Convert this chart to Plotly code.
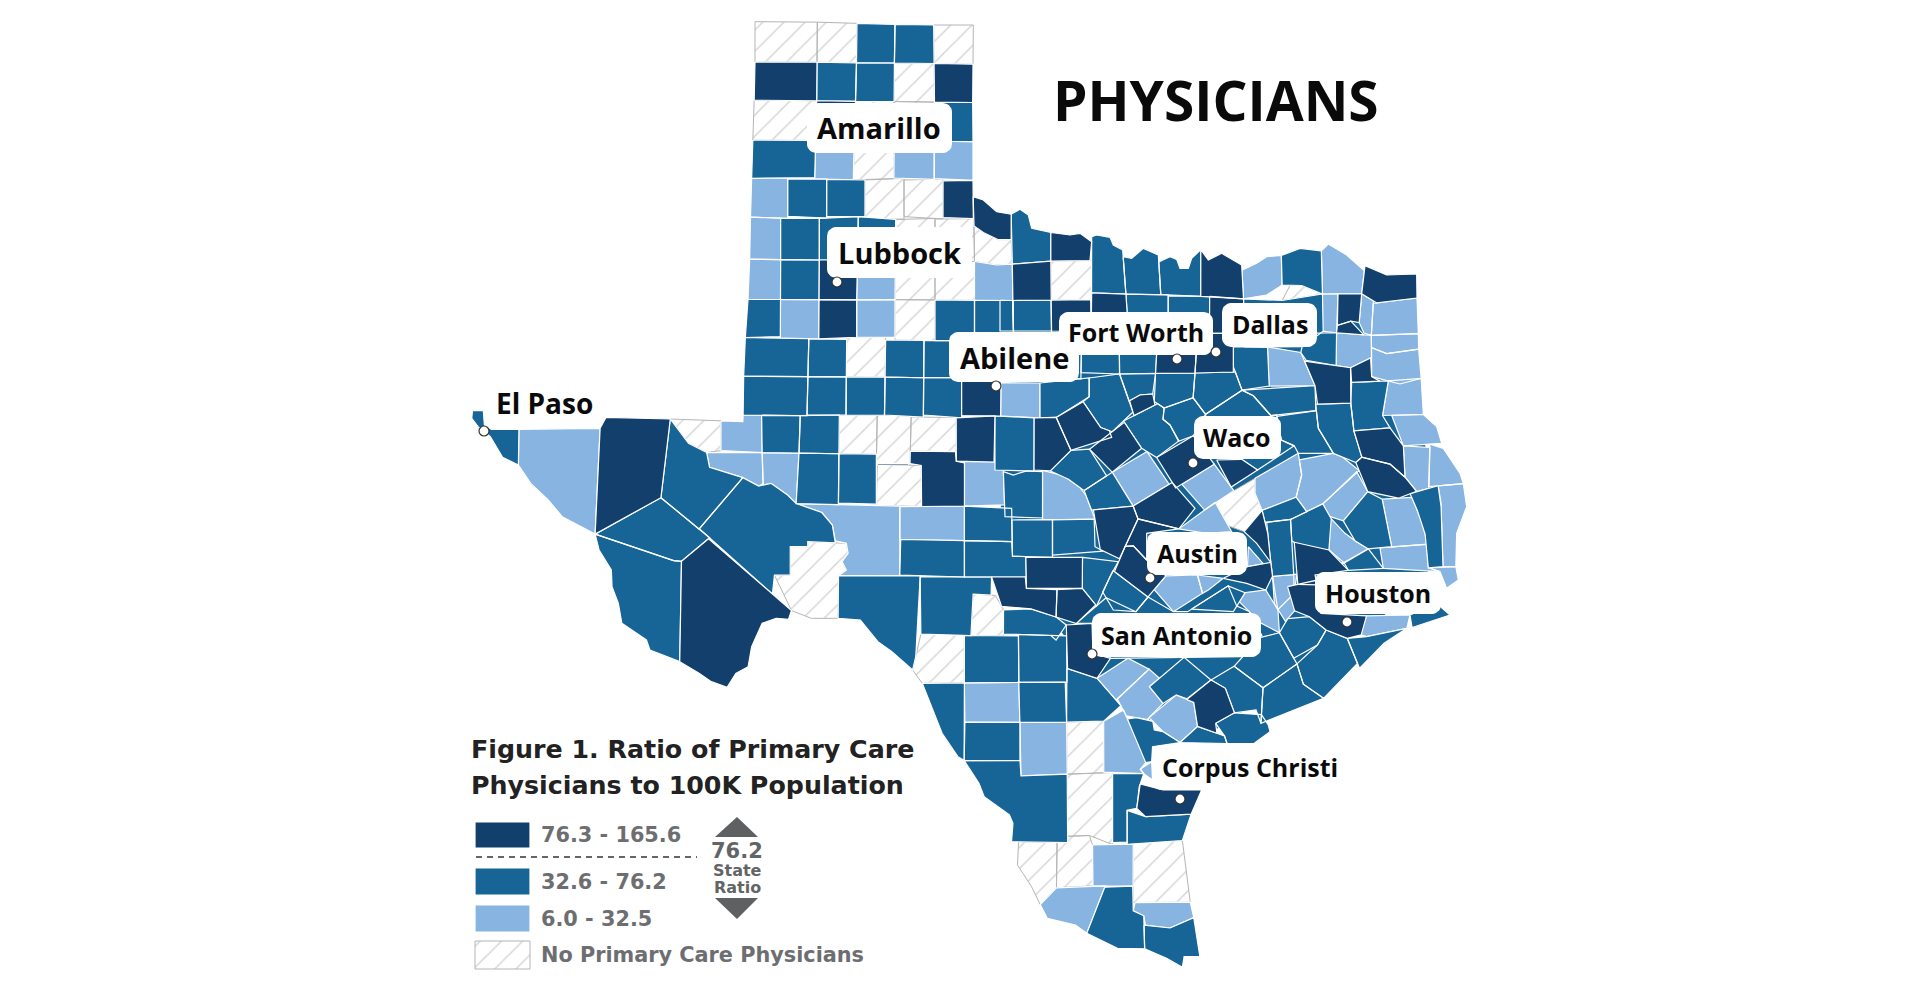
import numpy as np
import plotly.graph_objects as go

# Outline readings of the county map: each region is a crop of the picture
# (left, top, x-scale, y-scale); counties are listed by ratio class.
REGIONS = {"a": (720, 0, 3, 3), "b": (1000, 200, 3, 3), "c": (450, 380, 2.851, 3), "d": (900, 560, 2.851, 3)}

NONE_A = [(105,65,292,185),(292,68,410,185),(642,75,760,190),(523,190,642,305),(100,303,290,418),(405,305,523,420),(523,305,642,420),
          (400,425,522,533),(435,540,552,650),(552,540,668,650),(527,657,645,778),(645,657,762,778),(525,780,645,897),(645,780,762,897),
          (525,900,645,1012),(380,1018,497,1128),
          [(762,680),(790,700),(835,720),(875,720),(875,795),(830,795),(765,790)]]
MID_A = [(412,72,523,187),(527,75,640,187),(292,190,406,303),(410,192,520,303),(645,310,758,422),(97,422,283,533),(205,537,320,650),
         (320,540,435,650),(184,655,298,778),(298,655,415,778),(415,660,527,778),(184,782,298,897),(80,900,180,1010),(645,905,762,1012),
         (765,905,880,1012),(882,905,995,1012),(72,1015,265,1128),(268,1018,380,1128),(497,1022,612,1130),(612,1022,725,1130),
         (725,1022,843,1130),(843,1022,960,1130),(960,1022,1082,1130),(70,1130,260,1245),(262,1133,376,1245),(380,1133,492,1245),
         (495,1135,608,1245),(612,1138,725,1245)]
DARK_A = [(105,187,288,298),(645,195,758,305),(290,305,405,420),(670,545,758,655),(298,782,410,897),(298,902,408,1012),(725,1135,843,1248),
          [(762,590),(790,600),(830,635),(872,645),(872,718),(835,718),(790,695),(762,675)]]
LIGHT_A = [(285,425,400,533),(522,425,640,535),(645,428,760,537),(93,537,202,648),(90,655,180,775),(88,780,180,897),(410,782,525,897),
           (182,900,295,1010),(412,902,525,1012),[(765,790),(830,795),(875,805),(875,897),(765,897)]]

NONE_B = [(155,185,272,295),
          [(848,303),(870,265),(900,258),(965,275),(945,290),(890,300),(870,305)],
          [(650,905),(765,835),(765,880),(785,930),(730,990),(690,975)]]
MID_B = [[(35,40),(60,28),(85,45),(95,85),(150,95),(150,182),(38,182)],
         [(275,110),(290,105),(330,112),(340,135),(368,150),(368,280),(275,275)],
         [(372,170),(395,175),(430,145),(475,165),(480,285),(372,280)],
         [(485,185),(510,170),(530,178),(540,205),(565,205),(575,175),(600,150),(600,282),(485,282)],
         [(848,170),(900,145),(960,155),(965,270),(910,255),(850,255)],
         (388,288,502,400),(507,288,625,400),(40,303,150,393),(0,303,35,393),(245,400,355,518),(360,400,472,518),
         [(735,305),(845,300),(965,295),(968,390),(905,440),(735,440)],
         [(705,440),(800,440),(805,558),(730,565),(705,500)],
         [(122,550),(265,535),(265,590),(168,650),(122,650)],
         [(270,533),(358,530),(392,635),(330,688),(302,680),(250,605),(270,590)],
         [(362,522),(458,522),(458,580),(415,585),(388,600)],
         [(462,522),(575,520),(578,590),(490,622),(462,605)],
         [(580,520),(700,518),(725,572),(620,642),(580,595)],
         [(905,455),(915,400),(1005,395),(1008,495),(960,490),(920,475)],
         [(1055,550),(1160,542),(1145,645),(1170,682),(1060,685),(1055,610)],
         [(1230,880),(1310,862),(1328,920),(1328,1100),(1285,1100),(1285,1000),(1255,930)],
         [(1030,965),(1105,880),(1145,895),(1175,1040),(1110,1045),(1065,1020)],
         [(790,930),(890,900),(920,935),(870,955),(800,965)],
         [(875,960),(965,915),(990,960),(985,1050),(1030,1085),(1000,1085),(885,1020)],
         [(1040,1090),(1100,1050),(1150,1105),(1050,1112)],
         [(800,968),(870,960),(885,1120),(820,1125),(805,1060)],
         [(378,665),(470,615),(492,628),(490,660),(510,680),(535,725),(470,770),(425,745)],
         [(495,622),(580,595),(610,645),(580,705),(535,722),(510,670),(488,655)],
         [(150,812),(205,755),(265,745),(315,820),(250,868),(215,825)],
         (-15,655,100,810),
         [(620,642),(725,575),(760,590),(810,645),(830,650),(843,720),(880,740),(770,810),(725,778),(620,720)],
         [(830,648),(945,635),(955,690),(995,760),(900,760),(885,735),(845,720)],
         [(725,570),(945,560),(950,628),(815,648),(760,585)],
         [(955,615),(1052,612),(1060,700),(1082,770),(1065,790),(1000,760),(955,680)],
         [(255,875),(335,820),(398,915),(280,925)],
         [(12,815),(40,825),(80,810),(125,815),(125,950),(15,950)],
         (40,960,155,1065),
         [(160,960),(280,960),(285,1040),(305,1065),(160,1065)],
         [(345,1115),(440,1190),(410,1235),(340,1230),(315,1180)],
         [(250,1072),(345,1082),(335,1130),(290,1215),(248,1160)],
         (-105,925,35,1020),
         [(-105,1030),(35,1030),(35,1072),(75,1072),(75,1132),(-105,1132)],
         [(580,1235),(680,1155),(735,1175),(700,1235)]]
DARK_B = [[(155,100),(210,105),(240,100),(268,125),(268,178),(155,178)],
          [(605,148),(625,180),(665,160),(700,180),(725,195),(727,290),(630,288),(605,282)],
          [(1095,197),(1160,225),(1250,222),(1250,293),(1200,300),(1130,305),(1095,280)],
          (40,188,150,296),(275,282,383,400),(632,292,727,400),(158,303,272,393),(475,400,590,518),(595,400,700,518),
          [(1015,280),(1075,280),(1075,365),(1055,365),(1015,375)],
          [(1010,378),(1050,362),(1095,400),(1010,403)],
          [(1055,505),(1110,475),(1115,530),(1140,545),(1055,545)],
          [(918,480),(1005,500),(1050,505),(1050,607),(950,610),(945,555)],
          [(1065,692),(1170,685),(1215,745),(1215,830),(1170,790),(1090,770),(1065,715)],
          [(1070,785),(1085,775),(1170,795),(1215,835),(1250,875),(1195,893),(1105,870)],
          [(885,1025),(985,1060),(1040,1110),(945,1125),(945,1155),(895,1160)],
          [(735,1000),(785,940),(800,1000),(815,1085),(770,1030)],
          [(670,1140),(740,1105),(810,1090),(820,1120),(800,1170),(740,1150)],
          [(390,605),(425,585),(458,582),(458,605),(402,638)],
          [(272,750),(370,668),(425,745),(335,815)],
          [(170,655),(248,605),(302,685),(330,685),(335,712),(218,748)],
          [(105,652),(168,652),(215,750),(150,810),(105,810)],
          [(470,775),(580,710),(640,790),(530,860)],
          [(650,780),(725,778),(775,810),(695,860)],
          [(400,918),(510,855),(585,925),(535,985),(415,955)],
          [(280,932),(400,925),(412,955),(355,1075),(300,1050)],
          [(415,960),(535,990),(440,1000),(440,1075),(400,1035),(365,1032)],
          [(365,1035),(400,1040),(440,1085),(500,1130),(445,1188),(345,1110)],
          (80,1072,245,1165)]
LIGHT_B = [[(732,210),(770,190),(800,170),(840,163),(843,255),(800,285),(733,300)],
           [(968,150),(985,132),(1040,165),(1088,212),(1090,280),(1015,280),(970,285)],
           (0,548,118,648),
           [(805,445),(900,460),(945,555),(810,558)],
           (972,285,1012,390),
           [(1080,285),(1115,310),(1115,405),(1095,395),(1080,370)],
           [(1118,310),(1200,300),(1252,295),(1255,400),(1118,405)],
           [(1115,410),(1255,402),(1257,445),(1225,450),(1160,460),(1115,440)],
           [(1115,445),(1160,462),(1255,450),(1262,535),(1200,552),(1170,540),(1115,530)],
           [(1012,405),(1108,405),(1112,470),(1050,500),(1012,495)],
           [(1165,545),(1265,535),(1270,642),(1150,648),(1145,610)],
           [(1175,650),(1270,645),(1310,680),(1325,730),(1205,732)],
           [(1210,735),(1290,740),(1280,800),(1285,860),(1250,872),(1215,830)],
           [(1292,745),(1330,745),(1380,820),(1385,850),(1315,855),(1285,860)],
           [(1318,855),(1395,852),(1400,920),(1370,1000),(1365,1100),(1330,1100),(1328,905)],
           [(1148,900),(1230,895),(1265,960),(1285,1030),(1175,1040),(1160,990)],
           [(990,945),(1035,1000),(1065,1025),(1105,1045),(1030,1090),(990,1040)],
           [(970,915),(1070,815),(1100,875),(1030,960),(990,945)],
           [(895,780),(1005,760),(1030,765),(1065,810),(970,905),(920,935),(890,885),(905,830)],
           [(765,835),(890,760),(905,820),(885,890),(785,925),(765,880)],
           [(1140,1045),(1282,1035),(1285,1105),(1320,1115),(1150,1105)],
           [(1285,1105),(1370,1100),(1375,1140),(1340,1165),(1320,1115)],
           [(540,985),(640,905),(695,995),(620,1000)],
           [(595,1125),(670,1130),(625,1170),(605,1180)],
           [(470,1175),(495,1125),(590,1125),(610,1180),(520,1235)],
           [(815,1140),(885,1125),(890,1180),(825,1235)],
           [(340,815),(445,748),(505,850),(400,915)],
           [(550,860),(645,795),(695,860),(610,925)],
           [(130,815),(190,830),(240,860),(255,890),(285,955),(130,958)],
           [(745,1040),(790,1090),(745,1095)],
           [(-105,790),(-20,790),(8,815),(8,915),(-105,915)]]

NONE_C = [[(635,117),(770,120),(770,213),(730,215),(680,190)],
          (1112,110,1218,220),(1218,110,1315,248),(1315,112,1442,212),(1218,258,1342,375),
          [(925,585),(970,585),(970,500),(1020,500),(1020,485),(1130,490),(1135,520),(1118,545),(1130,570),(1105,590),(1105,715),(1030,715),(975,695)]]
MID_C = [[(64,92),(95,92),(98,135),(118,148),(195,148),(195,250),(150,232),(115,170),(80,140),(62,115)],
         [(627,117),(680,190),(730,220),(740,262),(835,292),(710,445),(604,352)],
         [(835,295),(880,318),(915,310),(960,345),(980,372),(1060,400),(1090,440),(1100,485),(1020,485),(1020,500),(970,500),(970,585),(925,585),(925,635),(712,447)],
         [(412,465),(600,355),(735,475),(660,542),(640,542)],
         [(412,475),(635,542),(658,545),(652,840),(570,810),(560,780),(490,730),(480,670),(462,620),(460,570),(425,510)],
         (890,107,997,215),(1000,107,1108,218),(993,222,1105,368),(1110,225,1213,370),(1285,482,1465,585),
         [(1108,588),(1338,590),(1335,830),(1320,865),(1260,815),(1220,785),(1185,740),(1170,720),(1108,715)],
         [(1343,592),(1540,592),(1543,640),(1495,640),(1485,760),(1342,760)]]
DARK_C = [[(445,112),(622,117),(600,352),(420,452),(428,145)],
          [(740,478),(972,688),(965,718),(930,715),(890,730),(860,800),(850,860),(815,880),(790,922),(745,905),(710,880),(658,850),(662,545)],
          (1445,115,1553,242),(1218,250,1308,255),
          [(1308,215),(1440,218),(1442,245),(1465,248),(1465,372),(1347,372),(1345,255),(1308,253)]]
LIGHT_C = [[(198,148),(428,145),(420,460),(405,460),(320,410),(280,360),(230,310),(195,260)],
           [(775,125),(835,125),(835,105),(887,105),(887,212),(775,210)],
           [(735,218),(890,222),(890,312),(880,318),(835,292),(740,262)],
           [(893,222),(990,222),(990,368),(965,345),(915,310),(893,310)],
           [(985,375),(1280,378),(1280,585),(1110,585),(1130,570),(1118,545),(1135,520),(1130,490),(1100,480),(1090,430),(1060,395)],
           (1285,382,1465,475)]

NONE_D = [[(205,105),(278,105),(295,150),(295,222),(202,222)],
          [(60,225),(182,225),(182,365),(62,365),(35,335)],
          (478,488,580,638),
          [(482,642),(605,640),(605,848),(540,825),(480,828)],
          [(338,848),(445,855),(445,985),(400,1030),(375,980),(335,915)],
          [(448,830),(540,828),(548,855),(565,975),(448,980)],
          [(668,850),(805,843),(825,1025),(670,1025)]]
MID_D = [[(295,150),(375,148),(440,175),(470,195),(445,240),(430,225),(295,222)],
         [(500,190),(585,115),(670,155),(710,115),(780,155),(820,155),(940,80),(955,135),(990,160),(1030,215),(975,290),(600,295),(550,190)],
         (340,228,470,362),(185,228,335,365),
         [(65,375),(182,372),(182,600),(165,590),(120,520),(85,430)],
         (342,370,472,485),(185,490,342,600),
         [(478,328),(560,358),(625,440),(580,483),(478,483)],
         [(182,605),(342,603),(345,650),(475,645),(478,848),(318,845),(322,790),(312,765),(240,710),(225,670)],
         [(607,642),(695,642),(672,680),(675,745),(645,750),(645,848),(607,848)],
         [(650,752),(700,772),(830,765),(805,840),(650,845)],
         [(588,982),(665,982),(665,1050),(695,1070),(695,1168),(620,1165),(535,1120)],
         [(700,1098),(770,1105),(840,1078),(855,1190),(810,1190),(805,1222),(760,1195),(700,1165)],
         [(640,480),(675,465),(715,490),(725,510),(750,515),(795,548),(720,560),(715,600),(695,605)],
         [(712,380),(810,295),(880,358),(815,415),(785,405),(750,430)],
         [(800,550),(850,508),(925,530),(930,550)],
         [(900,490),(955,460),(1015,465),(1050,495),(1055,515),(1010,550),(935,552),(925,525)],
         [(895,360),(950,320),(1030,385),(1028,490),(1015,450),(955,455),(945,425),(930,385)],
         [(955,318),(1030,235),(1080,220),(1130,310),(1035,385)],
         [(1040,380),(1130,315),(1150,375),(1205,415),(1030,490)],
         [(1135,310),(1190,255),(1215,215),(1240,215),(1270,235),(1305,310),(1210,415),(1150,370)],
         [(1080,220),(1100,170),(1165,165),(1215,210),(1190,255),(1130,290)],
         [(1275,235),(1330,230),(1400,220),(1445,205),(1380,250),(1310,325)],
         [(1458,165),(1530,130),(1568,165),(1460,203)]]
DARK_D = [[(265,50),(358,50),(360,85),(445,88),(445,168),(372,145),(280,145)],
          [(450,90),(520,90),(555,135),(500,185),(450,170)],
          [(478,195),(545,190),(550,280),(600,295),(560,352),(478,322)],
          [(680,670),(750,690),(860,690),(830,760),(700,768),(675,745)],
          [(820,415),(885,362),(925,385),(950,460),(900,490),(905,515),(850,500),(840,430)],
          [(1105,80),(1190,60),(1200,160),(1330,170),(1315,220),(1280,235),(1215,205),(1170,175),(1125,155)]]
LIGHT_D = [(185,372,338,483),(345,490,472,645),
           [(582,480),(638,450),(700,610),(680,630),(700,636),(582,635)],
           [(690,625),(720,610),(720,660),(690,645)],
           [(565,355),(650,290),(710,325),(615,415)],
           [(625,420),(710,330),(740,355),(710,380),(750,430),(705,470),(650,465)],
           [(710,470),(790,405),(835,425),(845,490),(800,545),(750,515)],
           (550,855,662,975),
           [(445,985),(582,982),(530,1120),(500,1095),(420,1075),(400,1038)],
           [(670,1030),(830,1028),(835,1068),(780,1090),(770,1103),(700,1092),(695,1065),(665,1055)],
           [(955,100),(1040,90),(1070,150),(1085,215),(1030,190),(975,130)],
           [(1060,50),(1115,45),(1125,150),(1090,180),(1070,130)],
           [(1310,220),(1330,165),(1450,165),(1445,205),(1330,230)]]

NONE_COUNTIES = {"a": NONE_A, "b": NONE_B, "c": NONE_C, "d": NONE_D}
LIGHT_COUNTIES = {"a": LIGHT_A, "b": LIGHT_B, "c": LIGHT_C, "d": LIGHT_D}
MID_COUNTIES = {"a": MID_A, "b": MID_B, "c": MID_C, "d": MID_D}
DARK_COUNTIES = {"a": DARK_A, "b": DARK_B, "c": DARK_C, "d": DARK_D}

# Rough interior of the state, shown only through slivers between county outlines
INTERIOR_X = [1015, 1400, 1410, 1450, 1420, 1320, 1200, 1150, 1090, 1030, 1000, 1015]
INTERIOR_Y = [300, 300, 400, 520, 590, 660, 740, 720, 670, 590, 520, 300]

CITY_NAMES = ["Amarillo", "Lubbock", "Abilene", "Fort Worth", "Dallas", "Waco", "Austin", "Houston", "San Antonio", "Corpus Christi", "El Paso"]
CITY_TEXT_X = [879, 899, 1014, 1136, 1270, 1237, 1197, 1378, 1176, 1250, 544]
CITY_TEXT_Y = [127, 252, 357, 332, 324, 437, 553, 593, 635, 767, 403]
CITY_FONT = [29, 29, 29, 25, 25, 25, 25, 25, 25, 25, 28]
BOX_X0 = [807, 827, 949, 1059, 1222, 1194, 1147, 1315, 1092, 1152, 490]
BOX_X1 = [952, 972, 1079, 1213, 1317, 1281, 1247, 1441, 1261, 1345, 605]
BOX_Y0 = [103, 227, 332, 312, 303, 416, 532, 572, 613, 745, 382]
BOX_Y1 = [153, 278, 382, 355, 347, 459, 575, 614, 657, 790, 424]
DOT_X = [837, 996, 1177, 1216, 1193, 1150, 1347, 1092, 1180, 484]
DOT_Y = [282, 386, 359, 352, 463, 578, 622, 654, 799, 431]

LEGEND_LABELS = ["76.3 - 165.6", "32.6 - 76.2", "6.0 - 32.5", "No Primary Care Physicians"]
LEGEND_TOP = [822, 868, 905, 941]
LEGEND_BOTTOM = [848, 895, 932, 969]
LEGEND_TEXT_Y = [835, 882, 919, 955]

COLOR_DARK, COLOR_MID, COLOR_LIGHT = "#133f6d", "#176497", "#87b4e1"
SNAP = 4.0


def to_px(region, item):
    left, top, sx, sy = REGIONS[region]
    if not isinstance(item[0], tuple):
        x0, y0, x1, y1 = item
        item = [(x0, y0), (x1, y0), (x1, y1), (x0, y1)]
    return [[left + p[0] / sx, top + p[1] / sy] for p in item]


def collect():
    polys = []
    for cls, groups in enumerate([NONE_COUNTIES, LIGHT_COUNTIES, MID_COUNTIES, DARK_COUNTIES]):
        for region, items in groups.items():
            for item in items:
                polys.append([cls, np.array(to_px(region, item), dtype=float)])
    return polys


def snap_outlines(polys):
    """Close small reading gaps: merge near-coincident corners, then pull corners onto nearby edges."""
    slim = [min(np.ptp(p[1][:, 0]), np.ptp(p[1][:, 1])) < 6 for p in polys]
    owner = np.concatenate([[i] * len(p[1]) for i, p in enumerate(polys)])
    pts = np.vstack([p[1] for p in polys])
    parent = list(range(len(pts)))

    def find(a):
        while parent[a] != a:
            parent[a] = parent[parent[a]]
            a = parent[a]
        return a

    for i in range(len(pts)):
        if slim[owner[i]]:
            continue
        d = np.hypot(*(pts[i + 1:] - pts[i]).T)
        for j in np.nonzero(d < SNAP)[0] + i + 1:
            if owner[j] != owner[i] and not slim[owner[j]]:
                parent[find(i)] = find(j)
    roots = np.array([find(i) for i in range(len(pts))])
    for r in np.unique(roots):
        m = roots == r
        pts[m] = pts[m].mean(axis=0)
    pos = 0
    for p in polys:
        p[1] = pts[pos:pos + len(p[1])].copy()
        pos += len(p[1])

    for _ in range(2):
        for i, p in enumerate(polys):
            if slim[i]:
                continue
            for k in range(len(p[1])):
                v = p[1][k]
                best, target = SNAP, None
                for j, q in enumerate(polys):
                    if j == i or slim[j]:
                        continue
                    a, b = q[1], np.roll(q[1], -1, axis=0)
                    ab = b - a
                    t = np.clip(((v - a) * ab).sum(1) / np.maximum((ab * ab).sum(1), 1e-9), 0, 1)
                    c = a + ab * t[:, None]
                    d = np.hypot(*(c - v).T)
                    m = d.argmin()
                    if 1e-6 < d[m] < best:
                        best, target = d[m], c[m]
                if target is not None:
                    p[1][k] = target
    return polys


def gather(polys, cls):
    xs, ys = [], []
    for c, pts in polys:
        if c == cls:
            xs += list(pts[:, 0]) + [pts[0, 0], None]
            ys += list(pts[:, 1]) + [pts[0, 1], None]
    return xs, ys


def polygon_trace(xs, ys, color=None, hatch=False):
    kw = dict(x=xs, y=ys, mode="lines", fill="toself", hoverinfo="skip", showlegend=False)
    if hatch:
        return go.Scatter(**kw, fillcolor="white", line=dict(color="#b5b5b5", width=1),
                          fillpattern=dict(shape="/", fgcolor="#acacac", bgcolor="white", size=15, solidity=0.1))
    return go.Scatter(**kw, fillcolor=color, line=dict(color="white", width=1.2))


def rounded(x0, y0, x1, y1, r=9):
    xs, ys = [], []
    corners = [(x1 - r, y0 + r, -90), (x1 - r, y1 - r, 0), (x0 + r, y1 - r, 90), (x0 + r, y0 + r, 180)]
    for cx, cy, start in corners:
        a = np.radians(np.linspace(start, start + 90, 8))
        xs += list(cx + r * np.cos(a))
        ys += list(cy + r * np.sin(a))
    return xs + [xs[0]], ys + [ys[0]]


counties = snap_outlines(collect())

fig = go.Figure()
fig.add_trace(go.Scatter(x=INTERIOR_X, y=INTERIOR_Y, mode="lines", fill="toself", fillcolor=COLOR_MID,
                         line=dict(color=COLOR_MID, width=0), hoverinfo="skip", showlegend=False))
fig.add_trace(polygon_trace(*gather(counties, 0), hatch=True))
fig.add_trace(polygon_trace(*gather(counties, 1), COLOR_LIGHT))
fig.add_trace(polygon_trace(*gather(counties, 2), COLOR_MID))
fig.add_trace(polygon_trace(*gather(counties, 3), COLOR_DARK))

# City callouts
for x0, x1, y0, y1 in zip(BOX_X0, BOX_X1, BOX_Y0, BOX_Y1):
    bx, by = rounded(x0, y0, x1, y1)
    fig.add_trace(go.Scatter(x=bx, y=by, mode="lines", fill="toself", fillcolor="white",
                             line=dict(color="white", width=0), hoverinfo="skip", showlegend=False))
fig.add_trace(go.Scatter(x=DOT_X, y=DOT_Y, mode="markers", hoverinfo="skip", showlegend=False,
                         marker=dict(size=10, color="white", line=dict(color="#333333", width=1.2))))

annotations = []
for name, x, y, size in zip(CITY_NAMES, CITY_TEXT_X, CITY_TEXT_Y, CITY_FONT):
    annotations.append(dict(x=x, y=y, text=name, showarrow=False, xanchor="center", yanchor="middle",
                            font=dict(family="Open Sans", size=size, color="#0a0a0a", weight=700)))
annotations.append(dict(x=1216, y=99, text="PHYSICIANS", showarrow=False, xanchor="center", yanchor="middle",
                        font=dict(family="Open Sans", size=55, color="#0a0a0a", weight=700)))
for text, y in [("Figure 1. Ratio of Primary Care", 749), ("Physicians to 100K Population", 785)]:
    annotations.append(dict(x=469, y=y, text=text, showarrow=False, xanchor="left", yanchor="middle",
                            font=dict(family="DejaVu Sans", size=25.3, color="#222222", weight=700)))

# Legend
for i, (label, top, bottom, ty) in enumerate(zip(LEGEND_LABELS, LEGEND_TOP, LEGEND_BOTTOM, LEGEND_TEXT_Y)):
    sx = [475, 530, 530, 475, 475]
    sy = [top, top, bottom, bottom, top]
    if i == 3:
        fig.add_trace(polygon_trace(sx, sy, hatch=True))
    else:
        fig.add_trace(polygon_trace(sx, sy, [COLOR_DARK, COLOR_MID, COLOR_LIGHT][i]))
    annotations.append(dict(x=539, y=ty, text=label, showarrow=False, xanchor="left", yanchor="middle",
                            font=dict(family="DejaVu Sans", size=20.8, color="#6d6e71", weight=700)))
fig.add_trace(go.Scatter(x=[476, 697], y=[857, 857], mode="lines", hoverinfo="skip", showlegend=False,
                         line=dict(color="#333333", width=1.5, dash="6px,5px")))
fig.add_trace(go.Scatter(x=[737, 715, 758, 737], y=[817, 837, 837, 817], mode="lines", fill="toself", hoverinfo="skip",
                         showlegend=False, fillcolor="#5f6062", line=dict(color="#5f6062", width=0)))
fig.add_trace(go.Scatter(x=[715, 758, 737, 715], y=[898, 898, 919, 898], mode="lines", fill="toself", hoverinfo="skip",
                         showlegend=False, fillcolor="#5f6062", line=dict(color="#5f6062", width=0)))
for text, y, size in [("76.2", 851, 21), ("State", 870, 16), ("Ratio", 887, 16)]:
    annotations.append(dict(x=737, y=y, text=text, showarrow=False, xanchor="center", yanchor="middle",
                            font=dict(family="DejaVu Sans", size=size, color="#636466", weight=700)))

fig.update_layout(width=1920, height=989, margin=dict(l=0, r=0, t=0, b=0), autosize=False,
                  paper_bgcolor="white", plot_bgcolor="white", showlegend=False, annotations=annotations,
                  xaxis=dict(range=[0, 1920], visible=False, fixedrange=True),
                  yaxis=dict(range=[989, 0], visible=False, fixedrange=True))

fig.write_html("out.html", config=dict(displayModeBar=False),
               post_script="document.body.style.margin='0';document.body.style.overflow='hidden';")
